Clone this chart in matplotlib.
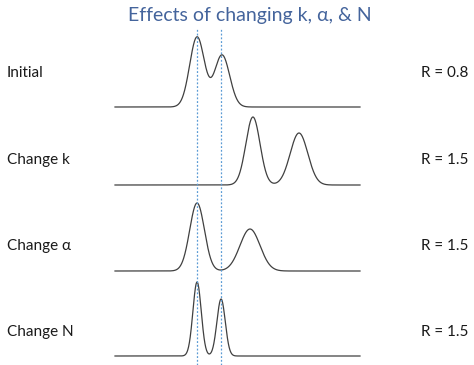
import numpy as np
import matplotlib
matplotlib.use("Agg")
import matplotlib.pyplot as plt

plt.rcParams['font.family'] = ['Lato', 'DejaVu Sans']

# peak data (retention time, height, width sigma)
labels = ['Initial', 'Change k', 'Change \u03b1', 'Change N']
r_values = ['R = 0.8', 'R = 1.5', 'R = 1.5', 'R = 1.5']
peak1_t = [3.35, 5.63, 3.35, 3.35]
peak2_t = [4.37, 7.51, 5.51, 4.33]
peak1_h = [70, 68, 68, 74]
peak2_h = [52, 52, 42, 57]
peak1_s = [0.30, 0.29, 0.30, 0.17]
peak2_s = [0.31, 0.36, 0.41, 0.17]
ref_lines = [3.35, 4.33]  # initial retention times

t = np.linspace(0, 10, 1200)

fig = plt.figure(figsize=(4.74, 3.65), dpi=100)
ax = fig.add_axes([0, 0, 1, 1])
ax.set_xlim(-115 / 24.5, (474 - 115) / 24.5)
ax.set_ylim(0, 365)
ax.axis('off')

offsets = [258, 180, 94, 9]   # baseline of each trace
label_y = [292, 205, 119, 33]

for i in range(4):
    sig = (peak1_h[i] * np.exp(-(t - peak1_t[i]) ** 2 / (2 * peak1_s[i] ** 2))
           + peak2_h[i] * np.exp(-(t - peak2_t[i]) ** 2 / (2 * peak2_s[i] ** 2)))
    ax.plot(t, sig + offsets[i], color='#404040', lw=0.9)
    fig.text(7 / 474, label_y[i] / 365, labels[i], fontsize=11, va='center', ha='left', color='#1a1a1a')
    fig.text(468 / 474, label_y[i] / 365, r_values[i], fontsize=11, va='center', ha='right', color='#1a1a1a')

for x in ref_lines:
    ax.plot([x, x], [0, 337], color='#5b9bd5', lw=0.9, ls=(0, (1.5, 1.5)))

fig.text(250 / 474, 350 / 365, 'Effects of changing k, \u03b1, & N', fontsize=14,
         ha='center', va='center', color='#44649c')

fig.savefig('out.png', dpi=100)
